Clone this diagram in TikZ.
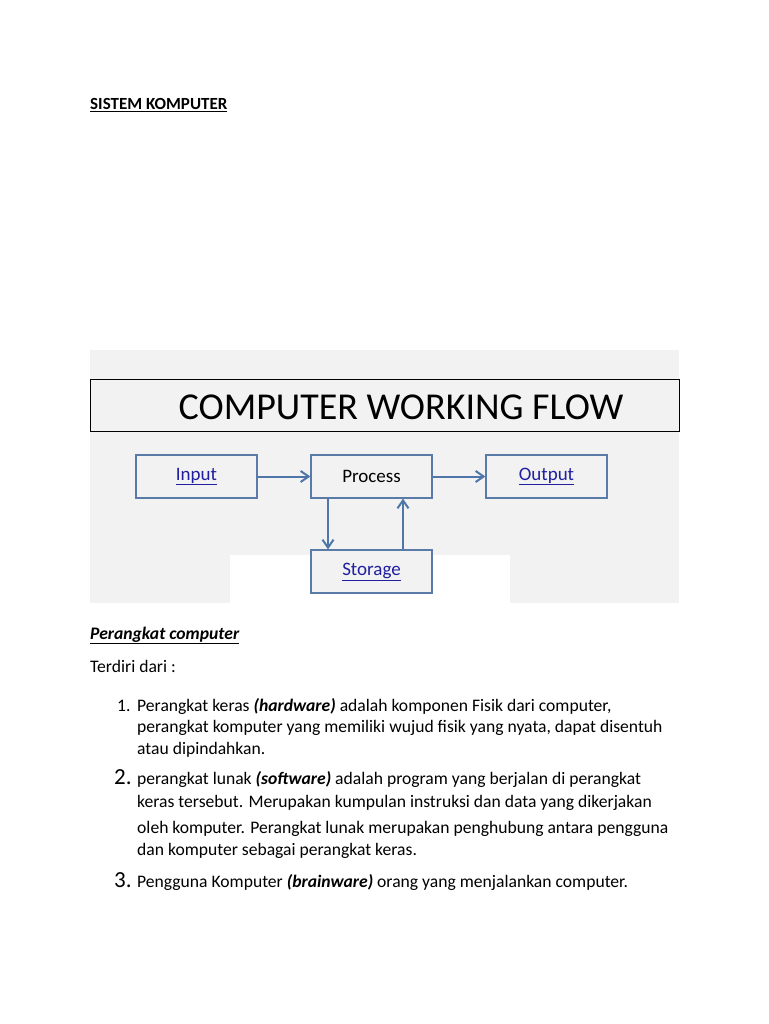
\documentclass[tikz,border=0pt]{standalone}
\usepackage{fontspec}
\setmainfont{Carlito}
\usetikzlibrary{arrows.meta}
\definecolor{panel}{HTML}{F2F2F2}
\definecolor{boxc}{HTML}{5A7BA8}
\definecolor{arr}{HTML}{4F76A8}
\definecolor{lnk}{HTML}{1F1FA0}
\tikzset{
 fbox/.style={draw=boxc,line width=1.2pt,fill=panel,minimum width=121pt,minimum height=43pt,inner sep=0pt,font=\fontsize{19}{22}\selectfont},
 flow/.style={draw=arr,line width=2pt,-{Straight Barb[length=8pt,width=11pt]}},
 body/.style={anchor=base west,inner sep=0pt,font=\fontsize{17.6}{21.5}\selectfont},
 num/.style={anchor=base west,inner sep=0pt,font=\fontsize{23}{23}\selectfont}
}
\begin{document}
\begin{tikzpicture}[x=1pt,y=-1pt]
\useasboundingbox (0,0) rectangle (768,1024);
\fill[white] (0,0) rectangle (768,1024);
\node[anchor=base west,inner sep=0pt,font=\fontsize{17}{18}\selectfont\bfseries] (t) at (90,110) {\underline{SISTEM KOMPUTER}};
% panel
\fill[panel] (90,350) rectangle (679,603);
\node[draw=black,line width=1pt,fill=panel,minimum width=589pt,minimum height=52pt,anchor=north west,inner sep=0pt] (title) at (90,379) {};
\node[font=\fontsize{38}{42}\selectfont] (tt) at (401,407) {COMPUTER WORKING FLOW};
\fill[white] (230,555) rectangle (510,603);
\node[fbox] (in) at (196.5,476.5) {\color{lnk}\underline{Input}};
\node[fbox] (pr) at (371.5,476.5) {Process};
\node[fbox] (out) at (546.5,476.5) {\color{lnk}\underline{Output}};
\node[fbox] (st) at (371.5,571.5) {\color{lnk}\underline{Storage}};
\draw[flow] (in) -- (pr);
\draw[flow] (pr) -- (out);
\draw[flow] (pr.south -| 328,0) -- (st.north -| 328,0);
\draw[flow] (st.north -| 403,0) -- (pr.south -| 403,0);
% text
\node[anchor=base west,inner sep=0pt,font=\fontsize{17.6}{20}\selectfont\bfseries\itshape] (h) at (90,639) {\underline{Perangkat computer}};
\node[body] (td) at (90,672) {Terdiri dari :};
\node[body] (n1) at (117,711) {1.};
\node[body] (p1a) at (137,711) {Perangkat keras \textbf{\textit{(hardware)}} adalah komponen Fisik dari computer,};
\node[body] (p1b) at (137,732) {perangkat komputer yang memiliki wujud fisik yang nyata, dapat disentuh};
\node[body] (p1c) at (137,754) {atau dipindahkan.};
\node[num] (n2) at (114,784) {2.};
\node[body] (p2a) at (137,784) {perangkat lunak \textbf{\textit{(software)}} adalah program yang berjalan di perangkat};
\node[body] (p2b) at (137,807) {keras tersebut. Merupakan kumpulan instruksi dan data yang dikerjakan};
\node[body] (p2c) at (137,833) {oleh komputer. Perangkat lunak merupakan penghubung antara pengguna};
\node[body] (p2d) at (137,855) {dan komputer sebagai perangkat keras.};
\node[num] (n3) at (114,887) {3.};
\node[body] (p3) at (137,887) {Pengguna Komputer \textbf{\textit{(brainware)}} orang yang menjalankan computer.};
\end{tikzpicture}
\end{document}
